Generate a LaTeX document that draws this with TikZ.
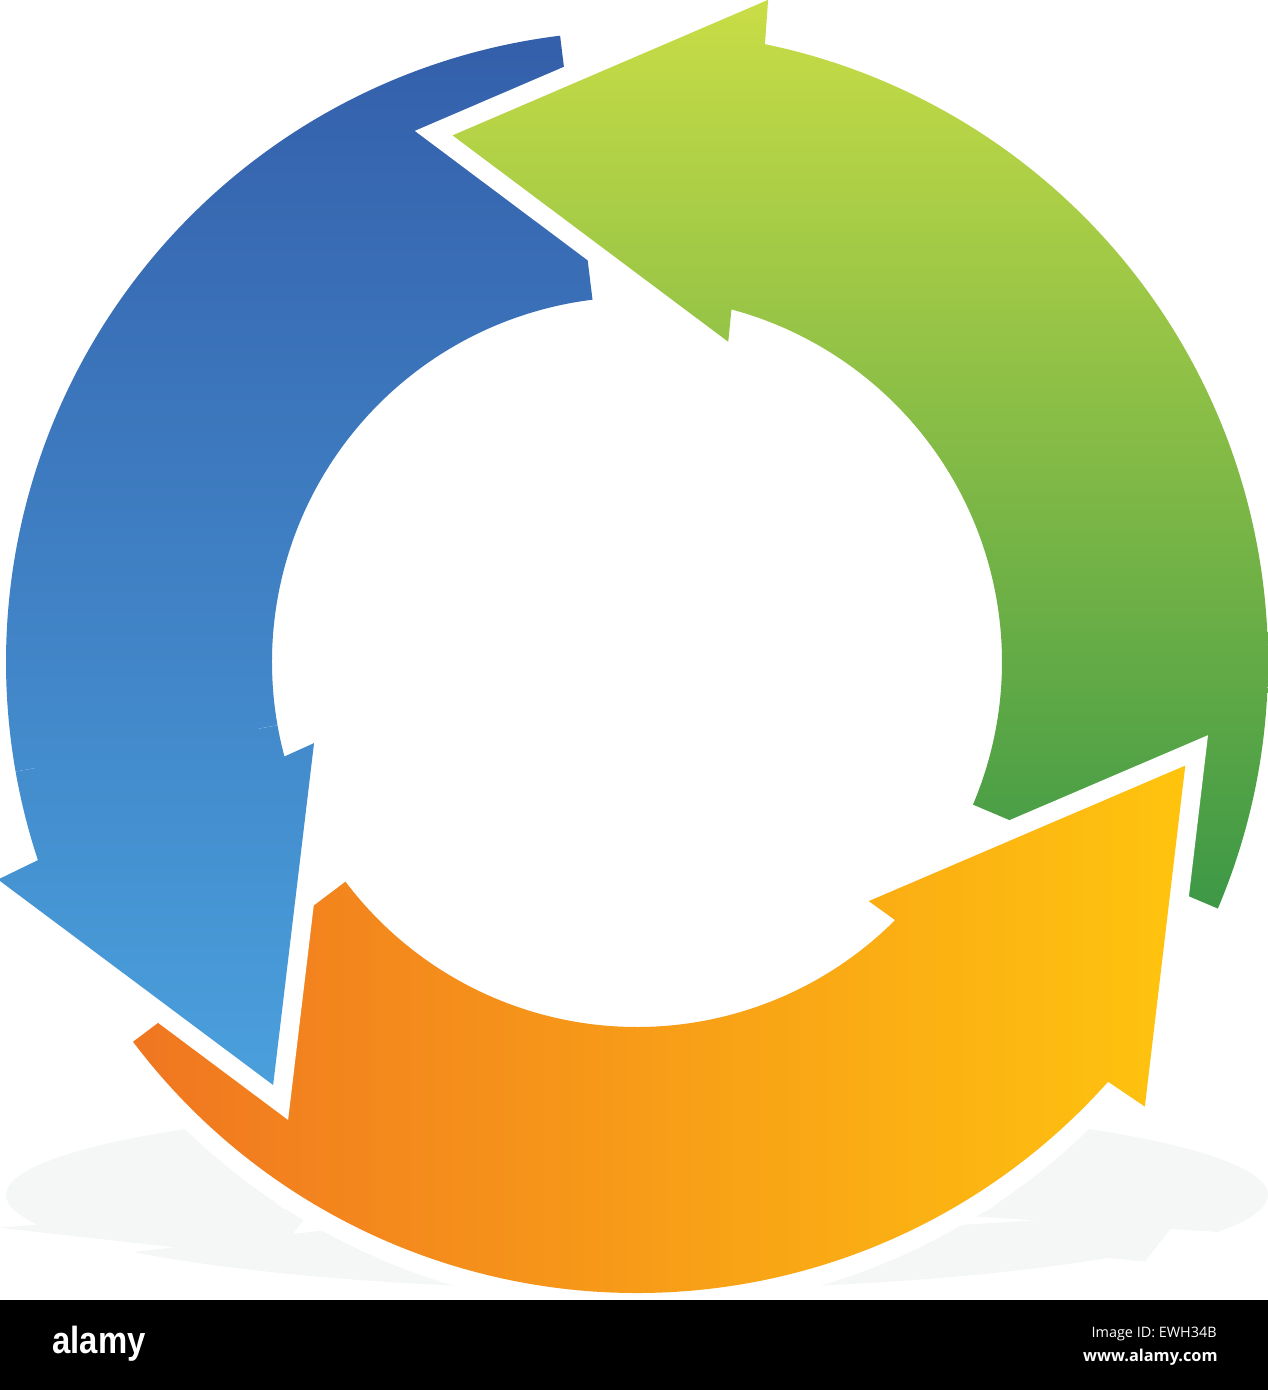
\documentclass[tikz,border=0pt]{standalone}
\usepackage{fontspec}
\setmainfont{Liberation Sans}
\newfontfamily\barfont{Open Sans}
\usepackage{graphicx}
\usepackage{tikz}
\usetikzlibrary{positioning}

\definecolor{bluetop}{HTML}{345FAA}
\definecolor{bluebot}{HTML}{4AA0DC}
\definecolor{greentop}{HTML}{C9DD46}
\definecolor{greenbot}{HTML}{3D9846}
\definecolor{orangeleft}{HTML}{F07621}
\definecolor{orangeright}{HTML}{FFC40E}
\definecolor{shadowgray}{HTML}{F5F7F7}

% one arrow of the cycle, turned by #1 degrees
\newcommand{\cyclearrow}[1]{({#1-23}:631) arc[start angle={#1-23}, end angle={#1+78.3}, radius=631]
  -- ({#1+78.8}:675) -- ({#1+109.3}:558) -- ({#1+74.1}:333) -- ({#1+75}:365)
  arc[start angle={#1+75}, end angle={#1-23}, radius=365] -- cycle}

\tikzset{
  whitegap/.style={preaction={draw=white, line width=0.76cm, line join=miter, miter limit=10}},
  bluearrow/.style={whitegap, top color=bluetop, bottom color=bluebot},
  greenarrow/.style={whitegap, top color=greentop, bottom color=greenbot},
  orangearrow/.style={whitegap, left color=orangeleft, right color=orangeright},
  bartext/.style={text=white, inner sep=0pt}
}

\begin{document}
\begin{tikzpicture}[x=0.02cm, y=0.02cm]
    \useasboundingbox (-637,-728) rectangle (631,662);

    % shadow under the ring
    \begin{scope}[shift={(0,-533)}, yscale=0.15]
        \foreach \turn in {0,120,240}
            \fill[shadowgray] \cyclearrow{\turn};
    \end{scope}

    % the three arrows
    \shade[bluearrow] \cyclearrow{120};
    \shade[greenarrow] \cyclearrow{0};
    \shade[orangearrow] \cyclearrow{240};
    % blue head again, over the orange tail
    \begin{scope}
        \clip (0,0) -- (190:760) -- (212:760) -- (240:760) -- cycle;
        \shade[bluearrow] \cyclearrow{120};
    \end{scope}

    % bottom bar
    \fill[black] (-637,-728) rectangle (631,-638);
    \node[bartext, anchor=base west, font=\bfseries\fontsize{21.5}{24}\selectfont] (logo) at (-585,-691) {\scalebox{0.87}[1]{alamy}};
    \node[bartext, anchor=base east, font=\barfont\fontsize{8.2}{10}\selectfont] (imageid) at (580,-675) {Image ID: EWH34B};
    \node[bartext, anchor=base east, font=\barfont\bfseries\fontsize{9.3}{11}\selectfont] (website) at (581,-699) {www.alamy.com};
\end{tikzpicture}
\end{document}
